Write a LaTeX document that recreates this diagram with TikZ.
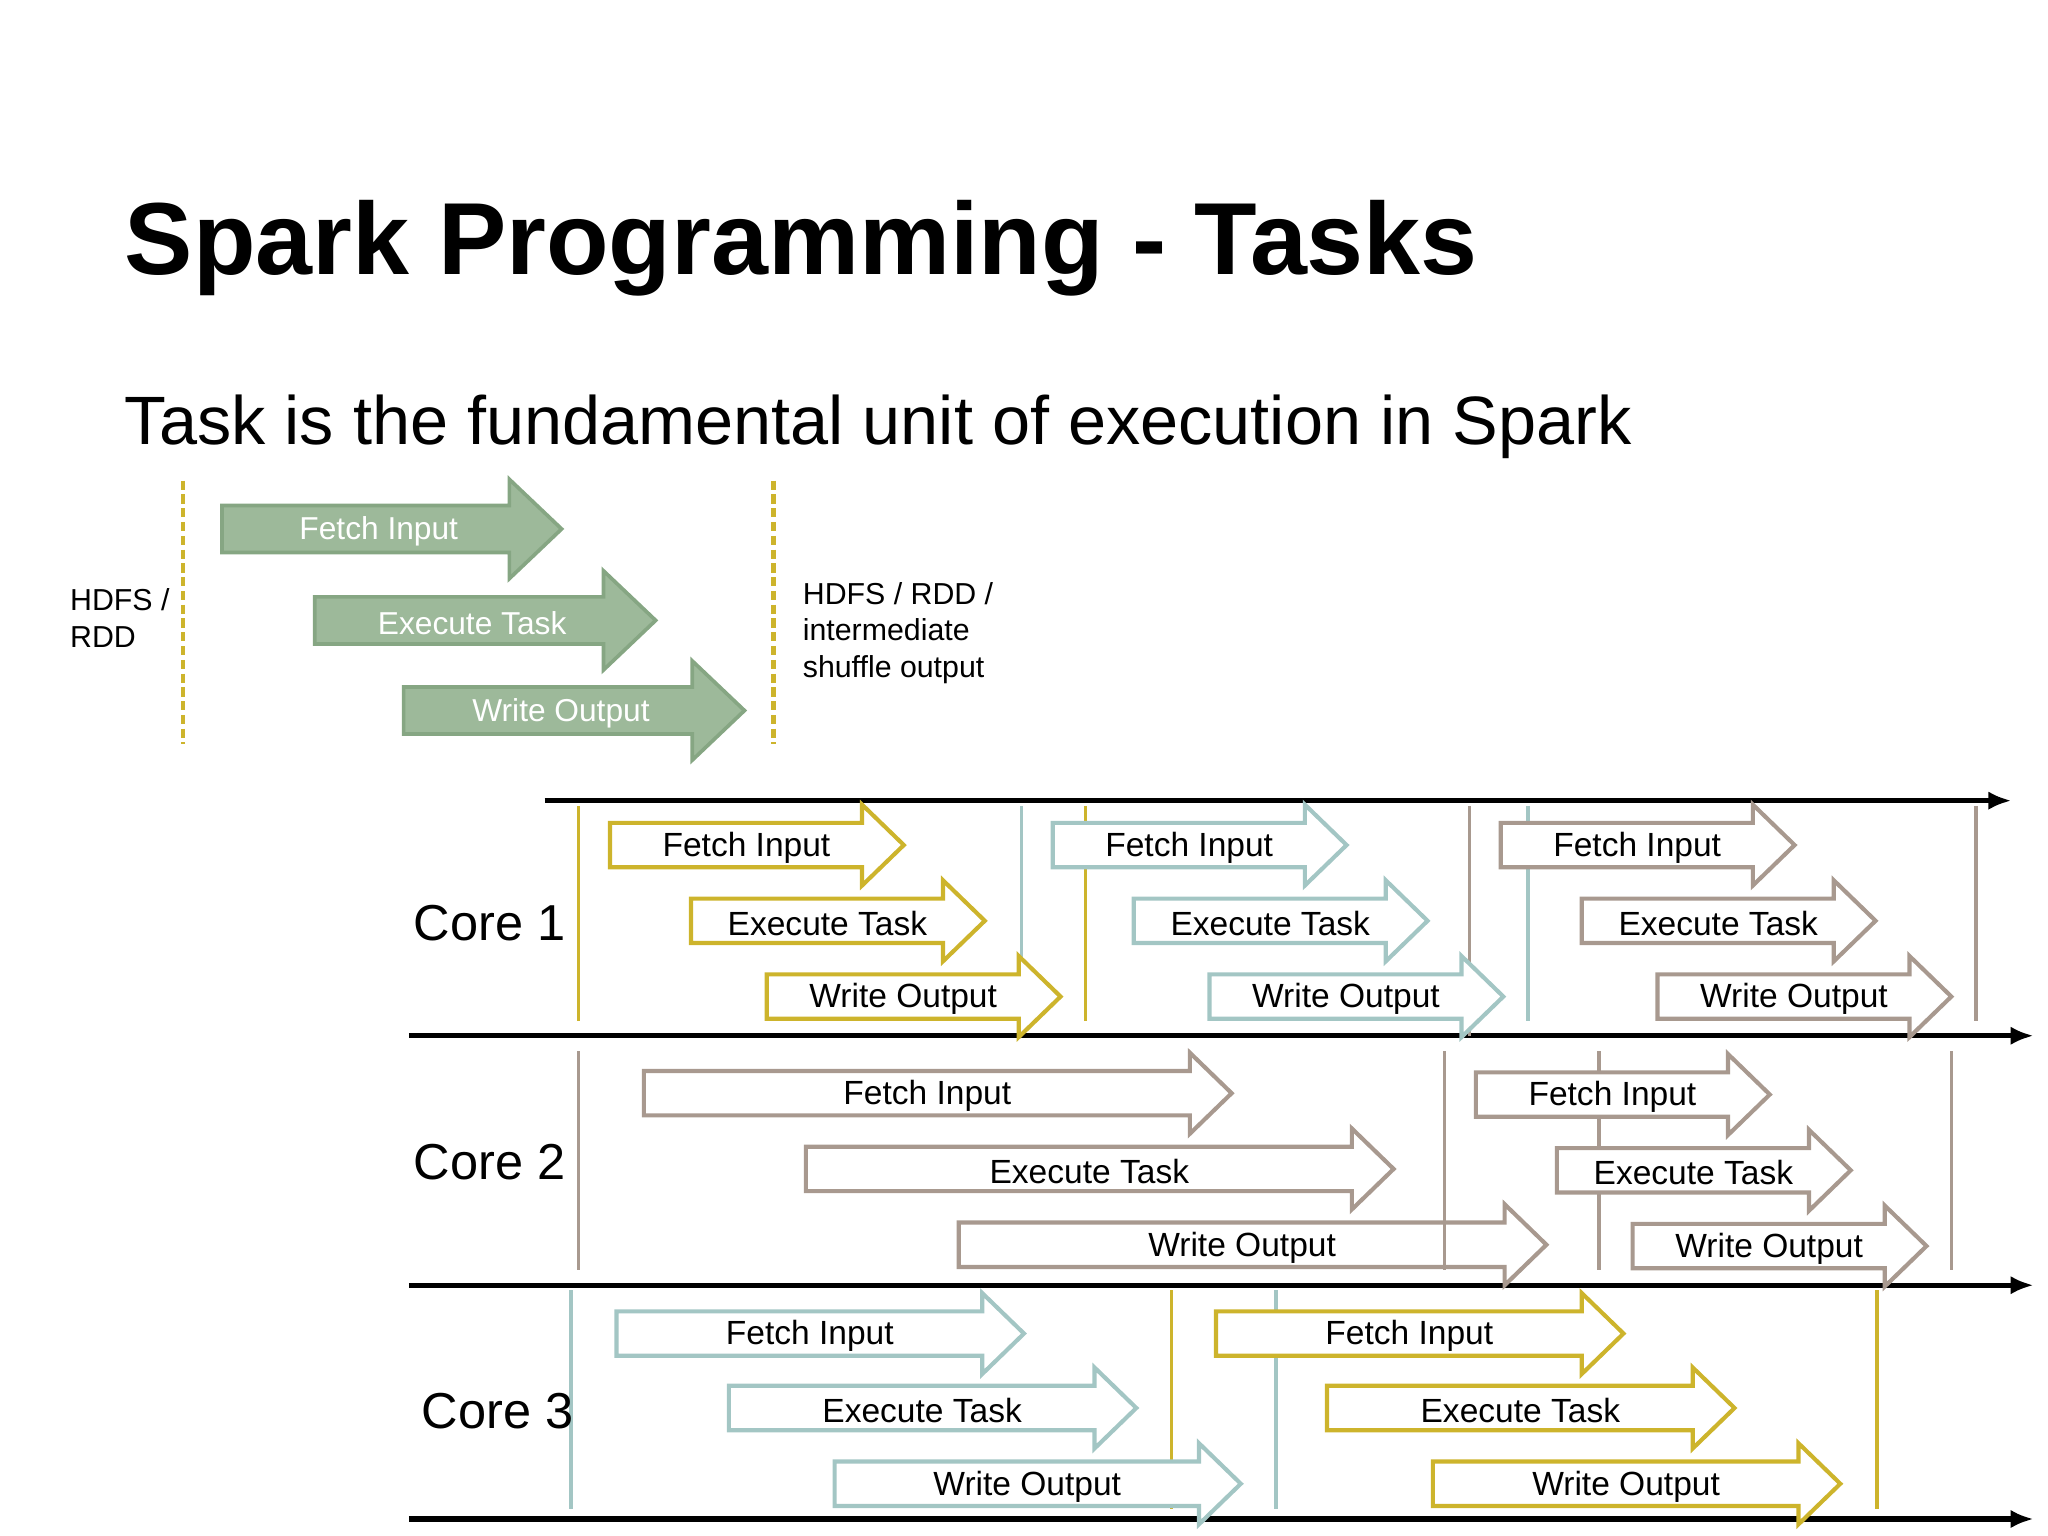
\documentclass[tikz,border=0pt]{standalone}
\usepackage{fontspec}
\setmainfont{Liberation Sans}
\usetikzlibrary{arrows.meta}
\definecolor{yel}{HTML}{CDB42C}
\definecolor{tea}{HTML}{A3C6C4}
\definecolor{tau}{HTML}{A8998F}
\definecolor{grf}{HTML}{9DB99A}
\definecolor{grd}{HTML}{86A683}
\tikzset{lbl/.style={inner sep=0pt,font=\fontsize{7.3}{8}\selectfont},
 axis/.style={line width=1.1pt,-{Latex[length=5pt,width=4pt]}},
 sep/.style={line width=0.8pt}}
\newcommand\tk[6]{%
 \draw[#4, line width=0.9pt, fill=white] (#1,#3-17) -- (#2-32,#3-17) -- (#2-32,#3-31) -- (#2,#3) -- (#2-32,#3+31) -- (#2-32,#3+17) -- (#1,#3+17) -- cycle;
 \node[lbl] (#6) at ({(#1+#2-32)/2+8},#3+2) {#5};}
\newcommand\gk[4]{%
 \draw[grd, line width=0.8pt, fill=grf] (#1,#3-18) -- (#2-40,#3-18) -- (#2-40,#3-38) -- (#2,#3) -- (#2-40,#3+38) -- (#2-40,#3+18) -- (#1,#3+18) -- cycle;
 \node[lbl,text=white] (#4) at ({(#1+#2-40)/2+10},#3+2) {\fontsize{6.9}{8}\selectfont #4};}
\begin{document}
\begin{tikzpicture}[x=0.01cm,y=-0.01cm]
\useasboundingbox (0,0) rectangle (1568,1176);
\node[anchor=base west,inner sep=0pt,font=\fontsize{22.3}{26}\selectfont\bfseries] (title) at (95,210) {Spark Programming - Tasks};
\node[anchor=base west,inner sep=0pt,font=\fontsize{14.9}{17}\selectfont] (sub) at (95,340) {Task is the fundamental unit of execution in Spark};
% top illustration
\draw[yel,line width=1pt,dash pattern=on 2pt off 1pt] (140,368) -- (140,570);
\draw[yel,line width=1pt,dash pattern=on 2pt off 1pt] (592,368) -- (592,570);
\gk{170}{430}{405}{Fetch Input}
\gk{241}{502}{475}{Execute Task}
\gk{309}{570}{544}{Write Output}
\node[anchor=north west,align=left,inner sep=0pt,font=\fontsize{6.6}{8}\selectfont] (l1) at (53,450) {HDFS /\\RDD};
\node[anchor=north west,align=left,inner sep=0pt,font=\fontsize{6.6}{8}\selectfont] (l2) at (614,445) {HDFS / RDD /\\intermediate\\shuffle output};
% axes
\draw[axis] (417,613) -- (1540,613);
\draw[axis] (313,793) -- (1557,793);
\draw[axis] (313,984) -- (1557,984);
\draw[axis] (313,1163) -- (1557,1163);
% core 1
\draw[sep,yel] (443,617) -- (443,782);
\draw[sep,tea] (782,617) -- (782,793);
\draw[sep,yel] (831,617) -- (831,782);
\draw[sep,tau] (1125,617) -- (1125,793);
\draw[sep,tea] (1170,617) -- (1170,782);
\draw[sep,tau] (1513,617) -- (1513,782);
\tk{467}{692}{647}{yel}{Fetch Input}{a1}
\tk{529}{754}{705}{yel}{Execute Task}{a2}
\tk{587}{812}{763}{yel}{Write Output}{a3}
\tk{806}{1031}{647}{tea}{Fetch Input}{b1}
\tk{868}{1093}{705}{tea}{Execute Task}{b2}
\tk{926}{1151}{763}{tea}{Write Output}{b3}
\tk{1149}{1374}{647}{tau}{Fetch Input}{c1}
\tk{1211}{1436}{705}{tau}{Execute Task}{c2}
\tk{1269}{1494}{763}{tau}{Write Output}{c3}
% core 2
\draw[sep,tau] (443,805) -- (443,972);
\draw[sep,tau] (1224,805) -- (1224,972);
\draw[sep,tau] (1494,805) -- (1494,972);
\tk{493}{943}{837}{tau}{Fetch Input}{d1}
\tk{617}{1067}{895}{tau}{Execute Task}{d2}
\tk{734}{1184}{953}{tau}{Write Output}{d3}
\draw[sep,tau] (1106,805) -- (1106,972);
\tk{1130}{1355}{838}{tau}{Fetch Input}{e1}
\tk{1192}{1417}{896}{tau}{Execute Task}{e2}
\tk{1250}{1475}{954}{tau}{Write Output}{e3}
% core 3
\draw[sep,tea] (437,988) -- (437,1155);
\draw[sep,yel] (897,988) -- (897,1155);
\draw[sep,tea] (977,988) -- (977,1155);
\draw[sep,yel] (1437,988) -- (1437,1155);
\tk{472}{784}{1021}{tea}{Fetch Input}{f1}
\tk{558}{870}{1078}{tea}{Execute Task}{f2}
\tk{639}{950}{1136}{tea}{Write Output}{f3}
\tk{931}{1243}{1021}{yel}{Fetch Input}{g1}
\tk{1016}{1328}{1078}{yel}{Execute Task}{g2}
\tk{1097}{1409}{1136}{yel}{Write Output}{g3}
% core labels
\node[lbl,font=\fontsize{11}{13}\selectfont] (k1) at (375,707) {Core 1};
\node[lbl,font=\fontsize{11}{13}\selectfont] (k2) at (375,890) {Core 2};
\node[lbl,font=\fontsize{11}{13}\selectfont] (k3) at (381,1080) {Core 3};
\end{tikzpicture}
\end{document}
